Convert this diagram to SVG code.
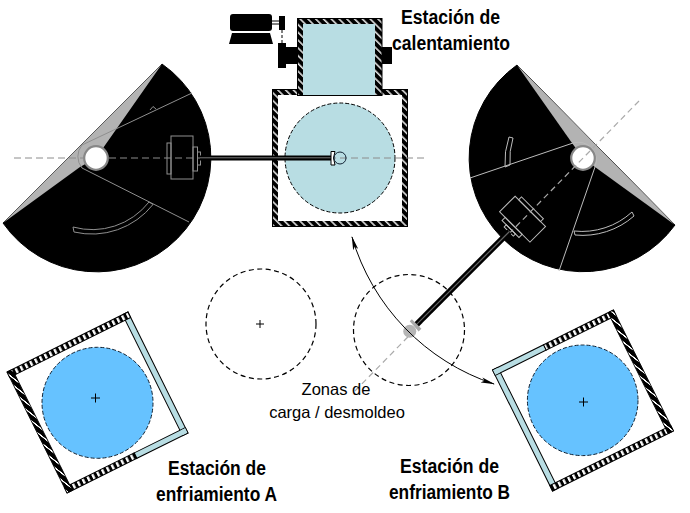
<svg xmlns="http://www.w3.org/2000/svg" width="690" height="513" viewBox="0 0 690 513">
<style>
.t{font-family:"Liberation Sans",Arial,sans-serif;font-weight:bold;font-size:19.5px;text-anchor:middle;fill:#000}
.z{font-family:"Liberation Sans",Arial,sans-serif;font-size:16.500px;text-anchor:middle;fill:#000}
.wall{fill:url(#hatch);stroke:#000;stroke-width:1}
.tick{fill:url(#ticks);stroke:#000;stroke-width:1}
.diag{fill:url(#diag);stroke:#000;stroke-width:.8}
.lb{fill:#b8dde3;stroke:#000;stroke-width:1}
.thin{fill:none;stroke:#8f8f8f;stroke-width:1}
.thinr{fill:none;stroke:#bdbdbd;stroke-width:1}
.zone{fill:none;stroke:#000;stroke-width:1.2;stroke-dasharray:5 3.5}
.hot{fill:#b8dde3;stroke:#000;stroke-width:1;stroke-dasharray:4 2}
.cool{fill:#66c2ff;stroke:#123;stroke-width:1;stroke-dasharray:4 2}
.cross{stroke:#000;stroke-width:1;fill:none}
.axis{stroke:#8c8c8c;stroke-width:1;stroke-dasharray:7 4;fill:none}
.axisr{stroke:#aaa;stroke-width:1.200;stroke-dasharray:6 4;fill:none}
.blk{fill:#000}
</style>
<defs>
<pattern id="hatch" width="5.5" height="5.5" patternUnits="userSpaceOnUse" patternTransform="rotate(-45)"><rect width="5.5" height="5.5" fill="#000"/><rect width="1.6" height="5.5" fill="#ddd"/></pattern>
<pattern id="ticks" width="5.4" height="8" patternUnits="userSpaceOnUse"><rect width="5.4" height="8" fill="#000"/><rect width="2.4" height="8" fill="#fff"/></pattern>
<pattern id="diag" width="6" height="13" patternUnits="userSpaceOnUse" patternTransform="skewY(65)"><rect width="6" height="13" fill="#000"/><rect width="6" height="3" fill="#fff"/></pattern>
<marker id="ah" viewBox="0 0 14 6" refX="13" refY="3" markerWidth="14" markerHeight="6" markerUnits="userSpaceOnUse" orient="auto-start-reverse"><path d="M0,0.4 L14,3 L0,5.6 L3,3Z" fill="#000"/></marker>
</defs>

<g id="carousel-left">
<path d="M162,64 A114.200,114.200 0 1 1 3,223 Z" fill="#000" stroke="#000"/>
<polygon points="162,64 3,223 80,167 96,158 108,141" fill="#b3b3b3"/>
<path class="thin" d="M82,145 L192,93 M82,168 L189,222 M82,145 A18,18 0 0 0 82,168 M150,110 L153,106.500 L156,109"/>
<path class="thin" d="M73,227 A72,72 0 0 0 149,202 L153,204.500 A78,78 0 0 1 74,232 Z"/>
<circle cx="96" cy="158" r="11.800" fill="#fff" stroke="#888" stroke-width="2.200"/>
<g class="thin"><rect x="171" y="136" width="22" height="43"/><rect x="167" y="143" width="4" height="31"/><rect x="193" y="147" width="4.500" height="24"/><rect x="197.500" y="152" width="3" height="13"/></g>
</g>

<g id="carousel-right">
<path d="M517,65 A113.900,113.900 0 1 0 675,225 Z" fill="#000" stroke="#000"/>
<polygon points="517,65 675,225 595,167 583,158 572,143" fill="#b3b3b3"/>
<path class="thinr" d="M573,143 L470,178 M595,167 L559,271 M573,143 A18,18 0 0 1 595,167"/>
<path class="thinr" d="M509,137 L513,138 A73,73 0 0 0 510,165 L505,167 A78,78 0 0 1 509,137 Z M574,231 A74,74 0 0 0 632,212 L634,216 A78,78 0 0 1 575,235 Z"/>
<circle cx="583" cy="158" r="11.800" fill="#fff" stroke="#888" stroke-width="2.200"/>
<g class="thinr" transform="translate(583,158) rotate(135)"><rect x="75" y="-22" width="22" height="43"/><rect x="71" y="-15" width="4" height="31"/><rect x="97" y="-11" width="4.500" height="24"/><rect x="101.500" y="-6" width="3" height="13"/></g>
</g>

<g id="estacion-calentamiento">
<rect class="wall" x="272.500" y="89.500" width="135" height="137"/>
<rect x="278" y="95" width="124" height="126" fill="#fff"/>
<rect class="wall" x="297.500" y="18.500" width="84.500" height="77"/>
<rect x="303" y="24" width="72" height="71" fill="#b8dde3"/>
<rect class="blk" x="382" y="47" width="10" height="17"/>
<rect class="blk" x="286" y="47" width="11" height="17"/>
<rect class="blk" x="278" y="43" width="8" height="25"/>
<rect class="blk" x="279" y="16" width="6" height="14"/>
<path d="M282,30 V43" stroke="#000" stroke-dasharray="3 2" fill="none"/>
<rect class="blk" x="230" y="14" width="42" height="17" rx="3"/>
<polygon class="blk" points="232,33 270,33 273,44 229,44"/>
<path d="M272,21 H279 M272,24 H279" stroke="#000" fill="none"/>
<circle class="hot" cx="340" cy="158" r="55"/>
</g>

<g id="zona-carga-1"><circle class="zone" cx="261" cy="324" r="55"/><path class="cross" d="M256,324 H264 M260,320 V328"/></g>
<g id="zona-carga-2"><circle class="zone" cx="409" cy="330" r="55.500"/></g>

<g id="estacion-enfriamiento-a">
<g transform="translate(97.500,402.500) rotate(-26.400)">
<rect x="-67.500" y="-67.500" width="135" height="135" fill="#fff"/>
<rect class="lb" x="61.500" y="-67.500" width="6" height="135"/>
<rect class="lb" x="10" y="61.500" width="57.500" height="6"/>
<rect x="62" y="62" width="5" height="5" fill="#b8dde3"/>
<rect class="tick" x="-67.500" y="-67.500" width="135" height="6"/>
<rect class="tick" x="-67.500" y="61.500" width="78" height="6"/>
<rect class="diag" x="-67.500" y="-67.500" width="6" height="135"/>
</g>
<circle class="cool" cx="97.500" cy="402.800" r="55.500"/>
<path class="cross" d="M91,398 H100 M95.500,393.500 V402.500"/>
</g>

<g id="estacion-enfriamiento-b">
<g transform="translate(583,400.500) rotate(-26.400)">
<rect x="-67.500" y="-67.500" width="135" height="135" fill="#fff"/>
<rect class="lb" x="-67.500" y="-67.500" width="6" height="135"/>
<rect class="lb" x="-67.500" y="-67.500" width="57" height="6"/>
<rect x="-67" y="-67" width="5" height="5" fill="#b8dde3"/>
<rect class="tick" x="-10.500" y="-67.500" width="78" height="6"/>
<rect class="tick" x="-67.500" y="61.500" width="135" height="6"/>
<rect class="diag" x="61.500" y="-67.500" width="6" height="135"/>
</g>
<circle class="cool" cx="582.700" cy="400.300" r="55.300"/>
<path class="cross" d="M579,402 H588 M583.500,397.500 V406.500"/>
</g>

<g id="connectors">
<path class="axis" d="M14,158 H83 M109,158 H427"/>
<path class="axisr" d="M639,101 L352,394"/>
<g id="brazo-izquierdo">
<rect class="blk" x="200" y="155.500" width="131" height="5"/>
<path d="M200,157.800 H331" stroke="#777" stroke-width="1"/>
<path d="M331,151.500 H335 L333.500,158 L335,165 H331 Z" fill="#fff" stroke="#000"/>
<circle cx="340" cy="158" r="6" fill="none" stroke="#123"/>
</g>
<g id="brazo-derecho" transform="translate(583,158) rotate(135)">
<rect class="blk" x="104" y="-3" width="133" height="6"/>
<path d="M104,0 H237" stroke="#666" stroke-width="1.200"/>
<path d="M235,-6.500 H239 L238,7 H235 Z" fill="#aaa"/>
<circle cx="245" cy="0" r="6.500" fill="#b5b5b5"/>
</g>
<path d="M352,237 A220,220 0 0 0 494,384" fill="none" stroke="#000" stroke-width="1" marker-start="url(#ah)" marker-end="url(#ah)"/>
</g>

<g id="textos">
<text class="t" x="450.500" y="24" textLength="99" lengthAdjust="spacingAndGlyphs">Estación de</text>
<text class="t" x="451" y="50" textLength="118" lengthAdjust="spacingAndGlyphs">calentamiento</text>
<text class="t" x="217" y="475" textLength="98" lengthAdjust="spacingAndGlyphs">Estación de</text>
<text class="t" x="216.500" y="501" textLength="121" lengthAdjust="spacingAndGlyphs">enfriamiento A</text>
<text class="t" x="449.500" y="473" textLength="99" lengthAdjust="spacingAndGlyphs">Estación de</text>
<text class="t" x="449.500" y="499" textLength="121" lengthAdjust="spacingAndGlyphs">enfriamiento B</text>
<text class="z" x="336" y="395">Zonas de</text>
<text class="z" x="337" y="418">carga / desmoldeo</text>
</g>
</svg>
